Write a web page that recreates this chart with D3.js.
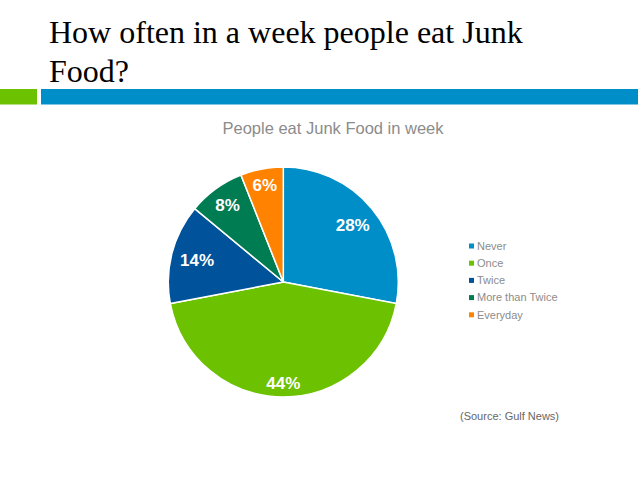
<!DOCTYPE html>
<html>
<head>
<meta charset="utf-8">
<script src="https://cdn.jsdelivr.net/npm/d3@7"></script>
<style>
  body { margin: 0; background: #fff; }
</style>
</head>
<body>
<div id="container"></div>
<script>
let w = 638;
let h = 478;

// chart data
let categories = ["Never", "Once", "Twice", "More than Twice", "Everyday"];
let shares = [28, 44, 14, 8, 6];
let colors = ["#008ec8", "#6cc100", "#00529a", "#007c52", "#ff8200"];

let titleLines = ["How often in a week people eat Junk", "Food?"];
let chartTitle = "People eat Junk Food in week";
let sourceNote = "(Source: Gulf News)";

let svg = d3.select("#container")
  .append("svg")
    .attr("width", w)
    .attr("height", h)
    .style("background-color", "white");

// slide title
svg.append("g").selectAll("text")
  .data(titleLines)
  .enter()
  .append("text")
    .attr("x", 49)
    .attr("y", function(d, i){ return 43 + i * 38.5; })
    .attr("font-family", "'Liberation Serif', 'Times New Roman', serif")
    .attr("font-size", 32)
    .attr("fill", "#000")
    .text(function(d){ return d; });

// header bars
svg.append("rect").attr("x", 0).attr("y", 89).attr("width", 37).attr("height", 15.5).attr("fill", "#6cc100");
svg.append("rect").attr("x", 41).attr("y", 89).attr("width", w - 41).attr("height", 15.5).attr("fill", "#008ec8");

// chart title
svg.append("text")
  .attr("x", 333)
  .attr("y", 134)
  .attr("text-anchor", "middle")
  .attr("font-family", "'Liberation Sans', Arial, sans-serif")
  .attr("font-size", 16.5)
  .attr("fill", "#8c8c8c")
  .text(chartTitle);

// pie
let cx = 283.3, cy = 282, r = 115;
let data = categories.map(function(c, i){ return {name: c, value: shares[i], color: colors[i]}; });

let pie = d3.pie().sort(null).value(function(d){ return d.value; });
let arc = d3.arc().innerRadius(0).outerRadius(r);

let pieGroup = svg.append("g").attr("transform", "translate(" + cx + "," + cy + ")");

pieGroup.selectAll("path")
  .data(pie(data))
  .enter()
  .append("path")
    .attr("d", arc)
    .attr("fill", function(d){ return d.data.color; })
    .attr("stroke", "#fff")
    .attr("stroke-width", 1.5);

// labels sit "inside end": the label box is pushed out until it nearly touches the rim
let labelEdge = 107;
let capHalf = 6;

pieGroup.selectAll(".lbl")
  .data(pie(data))
  .enter()
  .append("text")
    .attr("class", "lbl")
    .attr("text-anchor", "middle")
    .attr("dy", "0.36em")
    .attr("font-family", "'Liberation Sans', Arial, sans-serif")
    .attr("font-weight", "bold")
    .attr("font-size", 17)
    .attr("fill", "#fff")
    .text(function(d){ return d.data.value + "%"; })
    .attr("transform", function(d){
      let mid = (d.startAngle + d.endAngle) / 2;
      let sx = Math.sin(mid), sy = -Math.cos(mid);
      let halfW = this.getComputedTextLength() / 2;
      let dist = labelEdge - (Math.abs(sx) * halfW + Math.abs(sy) * capHalf);
      return "translate(" + (sx * dist) + "," + (sy * dist) + ")";
    });

// legend
let legend = svg.append("g").selectAll("g")
  .data(data)
  .enter()
  .append("g")
    .attr("transform", function(d, i){ return "translate(469," + (246 + i * 17.2) + ")"; });

legend.append("rect")
  .attr("x", 0).attr("y", -2.5)
  .attr("width", 5).attr("height", 5)
  .attr("fill", function(d){ return d.color; });

legend.append("text")
  .attr("x", 8)
  .attr("dy", "0.35em")
  .attr("font-family", "'Liberation Sans', Arial, sans-serif")
  .attr("font-size", 11)
  .attr("fill", "#8c8c8c")
  .text(function(d){ return d.name; });

// source
svg.append("text")
  .attr("x", 460)
  .attr("y", 420)
  .attr("font-family", "'Liberation Sans', Arial, sans-serif")
  .attr("font-size", 11)
  .attr("fill", "#666")
  .text(sourceNote);
</script>
</body>
</html>
